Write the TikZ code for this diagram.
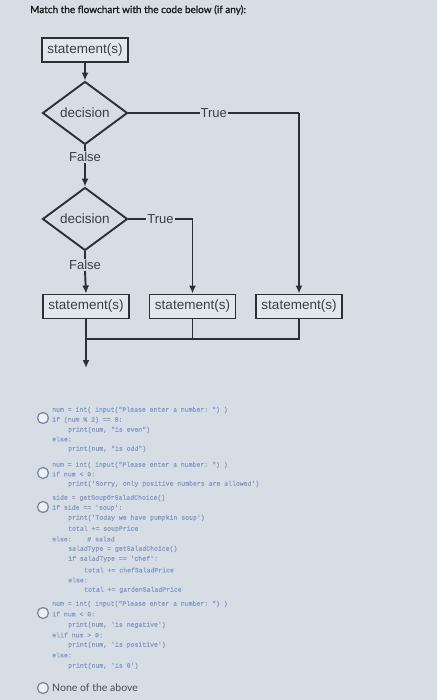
\documentclass[tikz,border=0pt]{standalone}
\usepackage{fontspec}
\setsansfont{Liberation Sans}
\setmonofont{Liberation Mono}[FakeBold=0.6]
\newfontfamily\latofont{Lato}
\newfontfamily\latotitle{Lato}[FakeBold=1.2]
\usetikzlibrary{shapes.geometric,arrows.meta}
\definecolor{bg}{RGB}{214,221,228}
\definecolor{lncol}{RGB}{45,47,52}
\definecolor{txtcol}{RGB}{60,62,68}
\definecolor{codecol}{RGB}{130,155,200}
\definecolor{radcol}{RGB}{120,138,168}
\begin{document}
\begin{tikzpicture}[x=1pt,y=-1pt,
  fbox/.style={draw=lncol, line width=1.9pt, fill=bg!70!white, minimum width=86pt, minimum height=24pt, inner sep=0pt, text=txtcol, font=\sffamily\fontsize{13.5}{14}\selectfont},
  dec/.style={diamond, draw=lncol, line width=1.9pt, aspect=1.3, minimum width=85pt, minimum height=63pt, inner sep=0pt, text=txtcol, font=\sffamily\fontsize{13.5}{14}\selectfont},
  lbl/.style={fill=bg, inner sep=1pt, text=txtcol, font=\sffamily\fontsize{13}{14}\selectfont},
  conn/.style={draw=lncol, line width=1.9pt},
  arr/.style={conn, -{Latex[length=8pt,width=7pt]}},
  cl/.style={anchor=west, inner sep=0pt, text=codecol, font=\ttfamily\fontsize{6.5}{7}\selectfont},
  radio/.style={circle, draw=radcol, line width=1.3pt, fill=bg!40!white, minimum size=11pt, inner sep=0pt}
]
\fill[bg] (0,0) rectangle (437,700);
\useasboundingbox (0,0) rectangle (437,700);

\node[anchor=west, inner sep=0pt, text=black!90, font=\latotitle\fontsize{10}{12}\selectfont] (title) at (30,10) {Match the flowchart with the code below (if any):};

% flowchart
\node[fbox] (s1) at (85,50) {statement(s)};
\node[dec] (d1) at (85,113) {decision};
\node[lbl] (f1) at (85,157) {False};
\node[dec] (d2) at (85,219) {decision};
\node[lbl] (f2) at (85,265) {False};
\node[fbox] (sa) at (86,306.5) {statement(s)};
\node[fbox] (sb) at (192.5,306.5) {statement(s)};
\node[fbox] (sc) at (299,306.5) {statement(s)};
\coordinate (c1) at (299,113);
\coordinate (c2) at (192.5,219);
\coordinate (m) at (86,339);
\coordinate (e) at (86,368);

\draw[arr] (s1.south) -- (d1.north);
\draw[conn] (d1.east) -- node[lbl]{True} (c1);
\draw[arr] (c1) -- (sc.north);
\draw[conn] (d1.south) -- (f1.north);
\draw[arr] (f1.south) -- (d2.north);
\draw[conn] (d2.east) -- node[lbl]{True} (c2);
\draw[arr] (c2) -- (sb.north);
\draw[conn] (d2.south) -- (f2.north);
\draw[arr] (f2.south) -- (sa.north);
\draw[conn] (sa.south) -- (m);
\draw[conn] (sb.south) -- (sb.south |- m);
\draw[conn] (sc.south) -- (sc.south |- m) -- (m);
\draw[arr] (m) -- (e);

% option 1
\node[radio] (r1) at (43,418) {};
\node[cl] (a1) at (52,410) {num = int( input("Please enter a number: ") )};
\node[cl] (a2) at (52,420) {if (num \% 2) == 0:};
\node[cl] (a3) at (68,430) {print(num, "is even")};
\node[cl] (a4) at (52,439) {else:};
\node[cl] (a5) at (68,449) {print(num, "is odd")};

% option 2
\node[radio] (r2) at (43,473) {};
\node[cl] (b1) at (52,465) {num = int( input("Please enter a number: ") )};
\node[cl] (b2) at (52,474) {if num < 0:};
\node[cl] (b3) at (68,484) {print('Sorry, only positive numbers are allowed')};

% option 3
\node[radio] (r3) at (43,507) {};
\node[cl] (k1) at (52,498) {side = getSoupOrSaladChoice()};
\node[cl] (k2) at (52,508) {if side == 'soup':};
\node[cl] (k3) at (68,518) {print('Today we have pumpkin soup')};
\node[cl] (k4) at (68,529) {total += soupPrice};
\node[cl] (k5) at (52,539) {else:\ \ \ \ \# salad};
\node[cl] (k6) at (68,549) {saladType = getSaladChoice()};
\node[cl] (k7) at (68,559) {if saladType == 'chef':};
\node[cl] (k8) at (84,570) {total += chefSaladPrice};
\node[cl] (k9) at (68,580) {else:};
\node[cl] (k10) at (84,590) {total += gardenSaladPrice};

% option 4
\node[radio] (r4) at (43,613) {};
\node[cl] (n1) at (52,604) {num = int( input("Please enter a number: ") )};
\node[cl] (n2) at (52,614) {if num < 0:};
\node[cl] (n3) at (68,625) {print(num, 'is negative')};
\node[cl] (n4) at (52,635) {elif num > 0:};
\node[cl] (n5) at (68,645) {print(num, 'is positive')};
\node[cl] (n6) at (52,655) {else:};
\node[cl] (n7) at (68,666) {print(num, 'is 0')};

% option 5
\node[radio] (r5) at (43,688) {};
\node[anchor=west, inner sep=0pt, text=black!70, font=\latofont\fontsize{10.5}{12}\selectfont] (none) at (52,688) {None of the above};
\end{tikzpicture}
\end{document}
